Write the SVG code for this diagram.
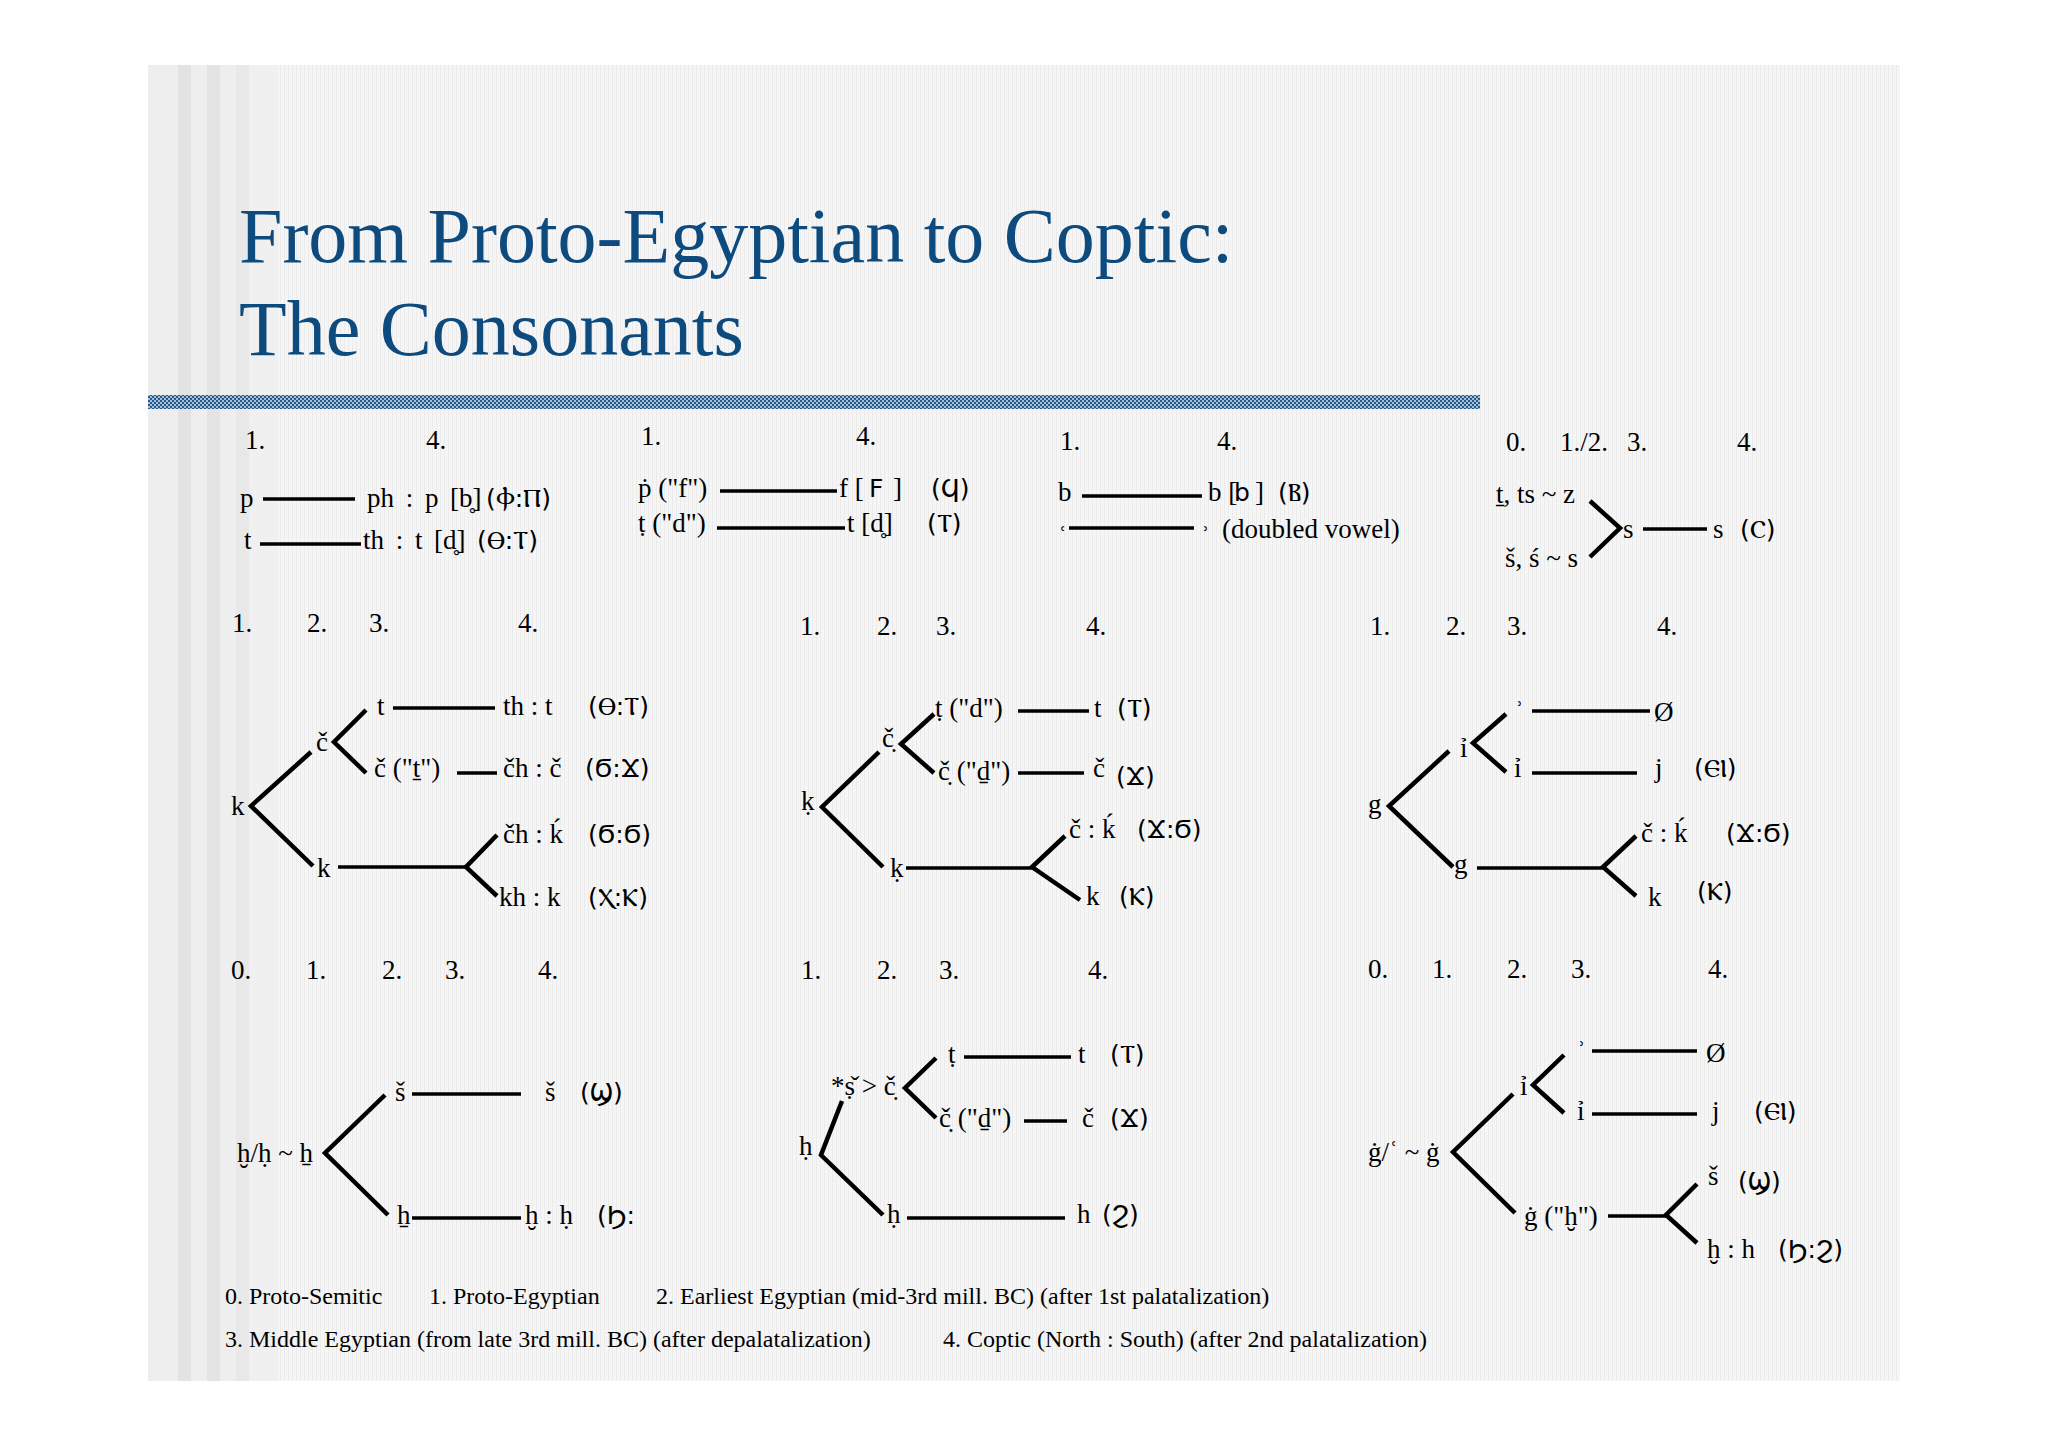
<svg xmlns="http://www.w3.org/2000/svg" width="2048" height="1447" viewBox="0 0 2048 1447">
<defs>
<pattern id="bgtex" width="4" height="4" patternUnits="userSpaceOnUse">
<rect width="4" height="4" fill="#f6f6f6"/>
<rect x="0" y="0" width="1" height="4" fill="#ebebeb"/>
<rect x="2" y="1" width="1" height="1" fill="#eeeeee"/>
</pattern>
<pattern id="check" width="4" height="4" patternUnits="userSpaceOnUse">
<rect width="4" height="4" fill="#a9bfd6"/>
<rect x="0" y="0" width="2" height="2" fill="#255a8c"/>
<rect x="2" y="2" width="2" height="2" fill="#255a8c"/>
</pattern>
<style>
.t{font-family:"Liberation Serif","Times New Roman",serif;font-size:27px;fill:#000}
.w{word-spacing:5px}
.s{font-family:"DejaVu Sans","Liberation Sans",sans-serif;font-size:25px;fill:#000}
.lg{font-family:"Liberation Serif","Times New Roman",serif;font-size:24px;fill:#000}
.ti{font-family:"Liberation Serif","Times New Roman",serif;font-size:78px;fill:#0d4a7e}
.ln{stroke:#000;stroke-width:3.5;fill:none}
.br{stroke:#000;stroke-width:4.5;fill:none;stroke-linejoin:miter}
</style>
</defs>
<rect width="2048" height="1447" fill="#ffffff"/>
<g id="background">
<rect x="148" y="65" width="1752" height="1316" fill="url(#bgtex)"/>
<rect x="148" y="65" width="130" height="1316" fill="#eeeeee"/>
<rect x="178" y="65" width="13" height="1316" fill="#e3e3e3"/>
<rect x="207" y="65" width="13" height="1316" fill="#e4e4e4"/>
<rect x="236" y="65" width="13" height="1316" fill="#e8e8e8"/>
<rect x="249" y="65" width="29" height="1316" fill="#f0f0f0"/>
<rect x="148" y="395" width="1332" height="14" fill="url(#check)"/>
</g>
<g id="title">
<text class="ti" x="239" y="262">From Proto-Egyptian to Coptic:</text>
<text class="ti" x="239" y="355">The Consonants</text>
</g>
<g id="connectors">
<line class="ln" x1="263" y1="499" x2="355" y2="499"/>
<line class="ln" x1="260" y1="544" x2="361" y2="544"/>
<line class="ln" x1="720" y1="491" x2="837" y2="491"/>
<line class="ln" x1="717" y1="528" x2="845" y2="528"/>
<line class="ln" x1="1082" y1="496" x2="1202" y2="496"/>
<line class="ln" x1="1069" y1="528" x2="1194" y2="528"/>
<polyline class="br" points="1590,501 1620,528 1590,557"/>
<line class="ln" x1="1643" y1="529" x2="1707" y2="529"/>
<polyline class="br" points="311,752 251,806 313,866"/>
<polyline class="br" points="366,710 334,742 366,773"/>
<line class="ln" x1="393" y1="708" x2="495" y2="708"/>
<line class="ln" x1="457" y1="773" x2="497" y2="773"/>
<line class="ln" x1="338" y1="867" x2="467" y2="867"/>
<polyline class="br" points="497,835 466,867 497,896"/>
<polyline class="br" points="879,752 822,807 883,867"/>
<polyline class="br" points="934,714 901,744 934,773"/>
<line class="ln" x1="1018" y1="711" x2="1089" y2="711"/>
<line class="ln" x1="1018" y1="773" x2="1084" y2="773"/>
<line class="ln" x1="906" y1="868" x2="1032" y2="868"/>
<polyline class="br" points="1065,836 1032,867 1080,900"/>
<polyline class="br" points="1449,751 1389,806 1453,867"/>
<polyline class="br" points="1506,714 1473,743 1506,772"/>
<line class="ln" x1="1532" y1="711" x2="1650" y2="711"/>
<line class="ln" x1="1532" y1="773" x2="1637" y2="773"/>
<line class="ln" x1="1477" y1="868" x2="1603" y2="868"/>
<polyline class="br" points="1636,836 1603,867 1636,896"/>
<polyline class="br" points="385,1095 325,1153 388,1215"/>
<line class="ln" x1="412" y1="1094" x2="521" y2="1094"/>
<line class="ln" x1="412" y1="1218" x2="521" y2="1218"/>
<polyline class="br" points="842,1101 821,1155 883,1215"/>
<polyline class="br" points="936,1058 905,1088 936,1118"/>
<line class="ln" x1="964" y1="1057" x2="1071" y2="1057"/>
<line class="ln" x1="1024" y1="1121" x2="1067" y2="1121"/>
<line class="ln" x1="907" y1="1218" x2="1065" y2="1218"/>
<polyline class="br" points="1513,1094 1453,1152 1515,1213"/>
<polyline class="br" points="1564,1055 1533,1085 1564,1113"/>
<line class="ln" x1="1592" y1="1051" x2="1697" y2="1051"/>
<line class="ln" x1="1592" y1="1114" x2="1697" y2="1114"/>
<line class="ln" x1="1608" y1="1216" x2="1666" y2="1216"/>
<polyline class="br" points="1697,1184 1666,1215 1697,1243"/>
</g>
<g id="block-p-t">
<text class="t" x="245" y="449">1.</text>
<text class="t" x="426" y="449">4.</text>
<text class="t" x="240" y="507">p</text>
<text class="t w" x="367" y="507">ph : p</text>
<text class="t" x="450" y="507">[b̥]</text>
<text class="s" x="486" y="507">(Ⲫ:Ⲡ)</text>
<text class="t" x="244" y="549">t</text>
<text class="t w" x="363" y="549">th : t</text>
<text class="t" x="434" y="549">[d̥]</text>
<text class="s" x="477" y="549">(Ⲑ:Ⲧ)</text>
</g>
<g id="block-pdot">
<text class="t" x="641" y="445">1.</text>
<text class="t" x="856" y="445">4.</text>
<text class="t" x="638" y="497">ṗ ("f")</text>
<text class="t" x="839" y="497">f [</text>
<text class="s" x="869" y="497">F</text>
<text class="t" x="893" y="497">]</text>
<text class="s" x="931" y="497">(Ϥ)</text>
<text class="t" x="638" y="532">ṭ ("d")</text>
<text class="t" x="847" y="532">t [d̥]</text>
<text class="s" x="927" y="532">(Ⲧ)</text>
</g>
<g id="block-b">
<text class="t" x="1060" y="450">1.</text>
<text class="t" x="1217" y="450">4.</text>
<text class="t" x="1058" y="501">b</text>
<text class="t" x="1208" y="501">b [</text>
<text class="s" x="1234" y="501">b</text>
<text class="t" x="1255" y="501">]</text>
<text class="s" x="1278" y="501">(Ⲃ)</text>
<text class="t" x="1058" y="546">ʿ</text>
<text class="t" x="1201" y="546">ʾ</text>
<text class="t" x="1222" y="538">(doubled vowel)</text>
</g>
<g id="block-s">
<text class="t" x="1506" y="451">0.</text>
<text class="t" x="1560" y="451">1./2.</text>
<text class="t" x="1627" y="451">3.</text>
<text class="t" x="1737" y="451">4.</text>
<text class="t" x="1496" y="503">ṯ, ts ~ z</text>
<text class="t" x="1505" y="567">š, ś ~ s</text>
<text class="t" x="1623" y="538">s</text>
<text class="t" x="1713" y="538">s</text>
<text class="s" x="1740" y="538">(Ⲥ)</text>
</g>
<g id="tree-k">
<text class="t" x="232" y="632">1.</text>
<text class="t" x="307" y="632">2.</text>
<text class="t" x="369" y="632">3.</text>
<text class="t" x="518" y="632">4.</text>
<text class="t" x="377" y="715">t</text>
<text class="t" x="503" y="715">th : t</text>
<text class="s" x="588" y="715">(Ⲑ:Ⲧ)</text>
<text class="t" x="316" y="751">č</text>
<text class="t" x="374" y="777">č ("ṯ")</text>
<text class="t" x="503" y="777">čh : č</text>
<text class="s" x="585" y="777">(Ϭ:Ϫ)</text>
<text class="t" x="231" y="815">k</text>
<text class="t" x="317" y="877">k</text>
<text class="t" x="503" y="843">čh : ḱ</text>
<text class="s" x="588" y="843">(Ϭ:Ϭ)</text>
<text class="t" x="499" y="906">kh : k</text>
<text class="s" x="588" y="906">(Ⲭ:Ⲕ)</text>
</g>
<g id="tree-kdot">
<text class="t" x="800" y="635">1.</text>
<text class="t" x="877" y="635">2.</text>
<text class="t" x="936" y="635">3.</text>
<text class="t" x="1086" y="635">4.</text>
<text class="t" x="935" y="717">ṭ ("d")</text>
<text class="t" x="1094" y="717">t</text>
<text class="s" x="1117" y="717">(Ⲧ)</text>
<text class="t" x="882" y="747">č̣</text>
<text class="t" x="938" y="780">č̣ ("ḏ")</text>
<text class="t" x="1093" y="777">č</text>
<text class="s" x="1116" y="785">(Ϫ)</text>
<text class="t" x="801" y="810">ḳ</text>
<text class="t" x="890" y="877">ḳ</text>
<text class="t" x="1069" y="838">č : ḱ</text>
<text class="s" x="1137" y="838">(Ϫ:Ϭ)</text>
<text class="t" x="1086" y="905">k</text>
<text class="s" x="1119" y="905">(Ⲕ)</text>
</g>
<g id="tree-g">
<text class="t" x="1370" y="635">1.</text>
<text class="t" x="1446" y="635">2.</text>
<text class="t" x="1507" y="635">3.</text>
<text class="t" x="1657" y="635">4.</text>
<text class="t" x="1515" y="721">ʾ</text>
<text class="t" x="1654" y="721">Ø</text>
<text class="t" x="1460" y="757">ỉ</text>
<text class="t" x="1514" y="777">ỉ</text>
<text class="t" x="1655" y="777">j</text>
<text class="s" x="1694" y="777">(ⲈⲒ)</text>
<text class="t" x="1368" y="813">g</text>
<text class="t" x="1454" y="873">g</text>
<text class="t" x="1641" y="842">č : ḱ</text>
<text class="s" x="1726" y="842">(Ϫ:Ϭ)</text>
<text class="t" x="1648" y="906">k</text>
<text class="s" x="1697" y="900">(Ⲕ)</text>
</g>
<g id="tree-h">
<text class="t" x="231" y="979">0.</text>
<text class="t" x="306" y="979">1.</text>
<text class="t" x="382" y="979">2.</text>
<text class="t" x="445" y="979">3.</text>
<text class="t" x="538" y="979">4.</text>
<text class="t" x="395" y="1101">š</text>
<text class="t" x="545" y="1101">š</text>
<text class="s" x="580" y="1101">(Ϣ)</text>
<text class="t" x="237" y="1162">ḫ/ḥ ~ ẖ</text>
<text class="t" x="397" y="1224">ẖ</text>
<text class="t" x="525" y="1224">ḫ : ḥ</text>
<text class="s" x="597" y="1224">(Ϧ:</text>
</g>
<g id="tree-hdot">
<text class="t" x="801" y="979">1.</text>
<text class="t" x="877" y="979">2.</text>
<text class="t" x="939" y="979">3.</text>
<text class="t" x="1088" y="979">4.</text>
<text class="t" x="948" y="1063">ṭ</text>
<text class="t" x="1078" y="1063">t</text>
<text class="s" x="1110" y="1063">(Ⲧ)</text>
<text class="t" x="831" y="1095">*ṣ̌ &gt; č̣</text>
<text class="t" x="939" y="1127">č̣ ("ḏ")</text>
<text class="t" x="1082" y="1127">č</text>
<text class="s" x="1110" y="1127">(Ϫ)</text>
<text class="t" x="799" y="1155">ḥ</text>
<text class="t" x="887" y="1223">ḥ</text>
<text class="t" x="1077" y="1223">h</text>
<text class="s" x="1102" y="1223">(Ϩ)</text>
</g>
<g id="tree-gdot">
<text class="t" x="1368" y="978">0.</text>
<text class="t" x="1432" y="978">1.</text>
<text class="t" x="1507" y="978">2.</text>
<text class="t" x="1571" y="978">3.</text>
<text class="t" x="1708" y="978">4.</text>
<text class="t" x="1577" y="1061">ʾ</text>
<text class="t" x="1706" y="1062">Ø</text>
<text class="t" x="1520" y="1095">ỉ</text>
<text class="t" x="1577" y="1120">ỉ</text>
<text class="t" x="1712" y="1120">j</text>
<text class="s" x="1754" y="1120">(ⲈⲒ)</text>
<text class="t" x="1368" y="1161">ġ/ʿ ~ ġ</text>
<text class="t" x="1524" y="1225">ġ ("ḫ")</text>
<text class="t" x="1708" y="1185">š</text>
<text class="s" x="1738" y="1190">(Ϣ)</text>
<text class="t" x="1707" y="1258">ḫ : h</text>
<text class="s" x="1778" y="1258">(Ϧ:Ϩ)</text>
</g>
<g id="legend">
<text class="lg" x="225" y="1304">0. Proto-Semitic</text>
<text class="lg" x="429" y="1304">1. Proto-Egyptian</text>
<text class="lg" x="656" y="1304">2. Earliest Egyptian (mid-3rd mill. BC) (after 1st palatalization)</text>
<text class="lg" x="225" y="1347">3. Middle Egyptian (from late 3rd mill. BC) (after depalatalization)</text>
<text class="lg" x="943" y="1347">4. Coptic (North : South) (after 2nd palatalization)</text>
</g>
</svg>
